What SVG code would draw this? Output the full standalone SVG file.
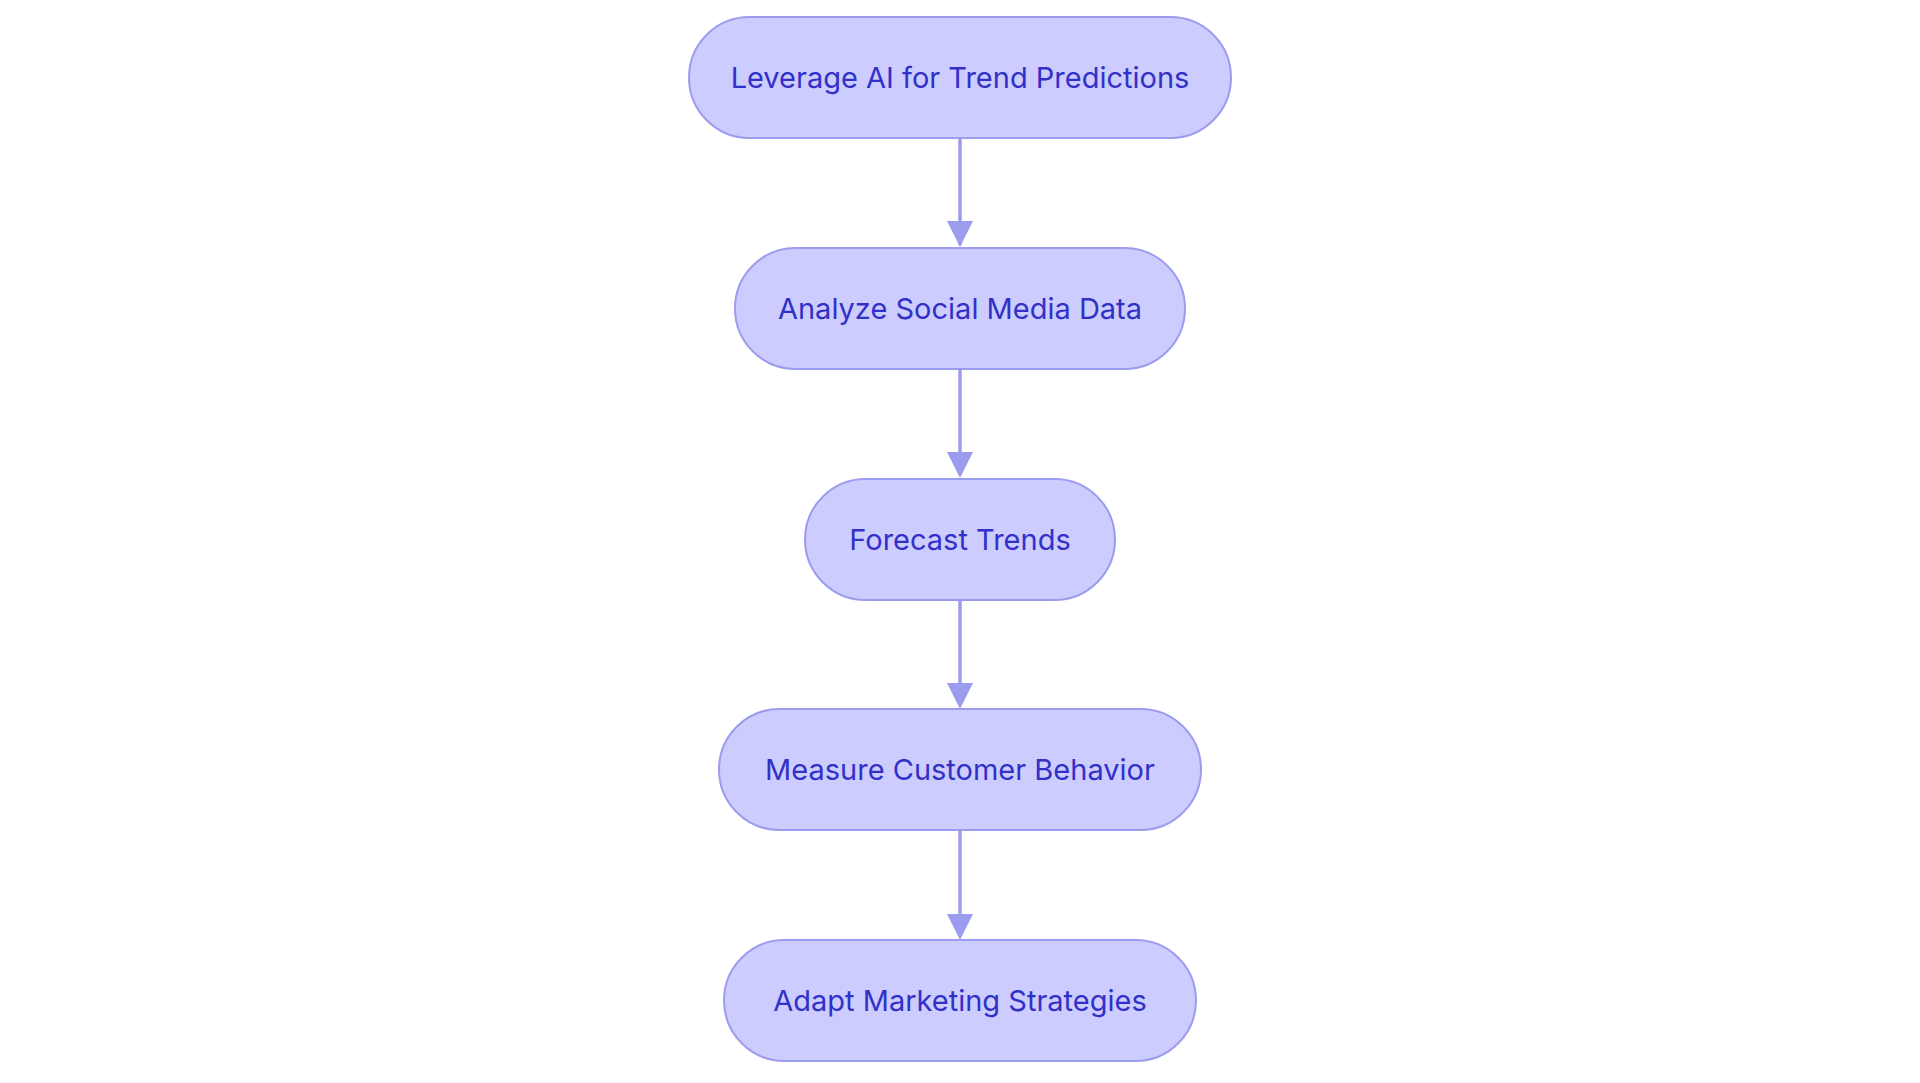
<svg xmlns="http://www.w3.org/2000/svg" width="1920" height="1083" viewBox="0 0 1920 1083">
<style>
.n rect{fill:#ccccff;stroke:#9c9cee;stroke-width:2}
.n text{font-family:Inter,"Noto Sans",sans-serif;font-size:29px;fill:#3131c8;text-anchor:middle;dominant-baseline:central}
.e{stroke:#9c9cee;stroke-width:3.5;fill:none;marker-end:url(#a)}
</style>
<defs><marker id="a" viewBox="0 0 10 10" refX="9" refY="5" markerWidth="7" markerHeight="7" markerUnits="userSpaceOnUse" orient="auto"><path d="M0,0L10,5L0,10z" fill="#9c9cee"/></marker></defs>
<rect width="1920" height="1083" fill="#fff"/>
<g id="edges">
<path class="e" d="M960,139V245" style="marker-end:none"/><path d="M947,221L960,247L973,221z" fill="#9c9cee"/>
<path class="e" d="M960,370V460" style="marker-end:none"/><path d="M947,452L960,478L973,452z" fill="#9c9cee"/>
<path class="e" d="M960,601V690" style="marker-end:none"/><path d="M947,683L960,709L973,683z" fill="#9c9cee"/>
<path class="e" d="M960,831V920" style="marker-end:none"/><path d="M947,914L960,940L973,914z" fill="#9c9cee"/>
</g>
<g id="n1" class="n"><rect x="689" y="17" width="542" height="121" rx="60.5"/><text x="960" y="77.5">Leverage AI for Trend Predictions</text></g>
<g id="n2" class="n"><rect x="735" y="248" width="450" height="121" rx="60.5"/><text x="960" y="308.5">Analyze Social Media Data</text></g>
<g id="n3" class="n"><rect x="805" y="479" width="310" height="121" rx="60.5"/><text x="960" y="539.5">Forecast Trends</text></g>
<g id="n4" class="n"><rect x="719" y="709" width="482" height="121" rx="60.5"/><text x="960" y="769.5">Measure Customer Behavior</text></g>
<g id="n5" class="n"><rect x="724" y="940" width="472" height="121" rx="60.5"/><text x="960" y="1000.5">Adapt Marketing Strategies</text></g>
</svg>
